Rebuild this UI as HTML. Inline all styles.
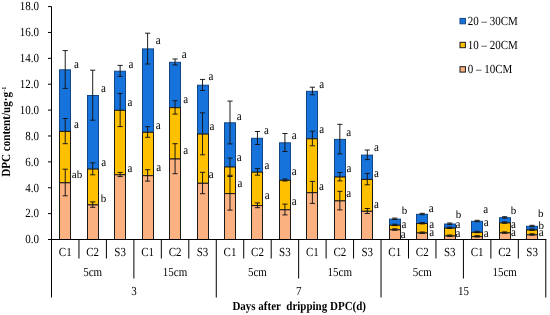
<!DOCTYPE html><html><head><meta charset="utf-8"><style>
html,body{margin:0;padding:0;background:#fff;width:550px;height:315px;overflow:hidden}
svg{display:block}
text{font-family:'Liberation Serif','Times New Roman',serif;fill:#000;text-rendering:geometricPrecision}
</style></head><body>
<svg width="550" height="315" viewBox="0 0 550 315">
<rect x="59.50" y="69.80" width="11" height="61.60" fill="#1773DC" stroke="#144684" stroke-width="1"/>
<rect x="59.50" y="131.40" width="11" height="51.40" fill="#FFC000" stroke="#1a1a1a" stroke-width="1"/>
<rect x="59.50" y="182.80" width="11" height="56.70" fill="#FCB181" stroke="#1a1a1a" stroke-width="1"/>
<rect x="87.50" y="95.50" width="11" height="73.60" fill="#1773DC" stroke="#144684" stroke-width="1"/>
<rect x="87.50" y="169.10" width="11" height="35.80" fill="#FFC000" stroke="#1a1a1a" stroke-width="1"/>
<rect x="87.50" y="204.90" width="11" height="34.60" fill="#FCB181" stroke="#1a1a1a" stroke-width="1"/>
<rect x="114.50" y="71.20" width="11" height="39.10" fill="#1773DC" stroke="#144684" stroke-width="1"/>
<rect x="114.50" y="110.30" width="11" height="64.50" fill="#FFC000" stroke="#1a1a1a" stroke-width="1"/>
<rect x="114.50" y="174.80" width="11" height="64.70" fill="#FCB181" stroke="#1a1a1a" stroke-width="1"/>
<rect x="142.50" y="48.90" width="11" height="83.40" fill="#1773DC" stroke="#144684" stroke-width="1"/>
<rect x="142.50" y="132.30" width="11" height="43.40" fill="#FFC000" stroke="#1a1a1a" stroke-width="1"/>
<rect x="142.50" y="175.70" width="11" height="63.80" fill="#FCB181" stroke="#1a1a1a" stroke-width="1"/>
<rect x="169.50" y="62.30" width="11" height="45.40" fill="#1773DC" stroke="#144684" stroke-width="1"/>
<rect x="169.50" y="107.70" width="11" height="51.30" fill="#FFC000" stroke="#1a1a1a" stroke-width="1"/>
<rect x="169.50" y="159.00" width="11" height="80.50" fill="#FCB181" stroke="#1a1a1a" stroke-width="1"/>
<rect x="197.50" y="85.20" width="11" height="48.90" fill="#1773DC" stroke="#144684" stroke-width="1"/>
<rect x="197.50" y="134.10" width="11" height="49.20" fill="#FFC000" stroke="#1a1a1a" stroke-width="1"/>
<rect x="197.50" y="183.30" width="11" height="56.20" fill="#FCB181" stroke="#1a1a1a" stroke-width="1"/>
<rect x="224.50" y="122.80" width="11" height="44.20" fill="#1773DC" stroke="#144684" stroke-width="1"/>
<rect x="224.50" y="167.00" width="11" height="26.60" fill="#FFC000" stroke="#1a1a1a" stroke-width="1"/>
<rect x="224.50" y="193.60" width="11" height="45.90" fill="#FCB181" stroke="#1a1a1a" stroke-width="1"/>
<rect x="251.50" y="138.30" width="11" height="33.90" fill="#1773DC" stroke="#144684" stroke-width="1"/>
<rect x="251.50" y="172.20" width="11" height="33.40" fill="#FFC000" stroke="#1a1a1a" stroke-width="1"/>
<rect x="251.50" y="205.60" width="11" height="33.90" fill="#FCB181" stroke="#1a1a1a" stroke-width="1"/>
<rect x="279.50" y="142.80" width="11" height="37.50" fill="#1773DC" stroke="#144684" stroke-width="1"/>
<rect x="279.50" y="180.30" width="11" height="29.50" fill="#FFC000" stroke="#1a1a1a" stroke-width="1"/>
<rect x="279.50" y="209.80" width="11" height="29.70" fill="#FCB181" stroke="#1a1a1a" stroke-width="1"/>
<rect x="306.50" y="91.30" width="11" height="47.50" fill="#1773DC" stroke="#144684" stroke-width="1"/>
<rect x="306.50" y="138.80" width="11" height="53.90" fill="#FFC000" stroke="#1a1a1a" stroke-width="1"/>
<rect x="306.50" y="192.70" width="11" height="46.80" fill="#FCB181" stroke="#1a1a1a" stroke-width="1"/>
<rect x="334.50" y="139.40" width="11" height="37.60" fill="#1773DC" stroke="#144684" stroke-width="1"/>
<rect x="334.50" y="177.00" width="11" height="23.90" fill="#FFC000" stroke="#1a1a1a" stroke-width="1"/>
<rect x="334.50" y="200.90" width="11" height="38.60" fill="#FCB181" stroke="#1a1a1a" stroke-width="1"/>
<rect x="361.50" y="155.10" width="11" height="24.30" fill="#1773DC" stroke="#144684" stroke-width="1"/>
<rect x="361.50" y="179.40" width="11" height="31.90" fill="#FFC000" stroke="#1a1a1a" stroke-width="1"/>
<rect x="361.50" y="211.30" width="11" height="28.20" fill="#FCB181" stroke="#1a1a1a" stroke-width="1"/>
<rect x="389.50" y="219.10" width="11" height="6.10" fill="#1773DC" stroke="#144684" stroke-width="1"/>
<rect x="389.50" y="225.20" width="11" height="4.60" fill="#FFC000" stroke="#1a1a1a" stroke-width="1"/>
<rect x="389.50" y="229.80" width="11" height="9.70" fill="#FCB181" stroke="#1a1a1a" stroke-width="1"/>
<rect x="416.50" y="214.30" width="11" height="9.20" fill="#1773DC" stroke="#144684" stroke-width="1"/>
<rect x="416.50" y="223.50" width="11" height="9.50" fill="#FFC000" stroke="#1a1a1a" stroke-width="1"/>
<rect x="416.50" y="233.00" width="11" height="6.50" fill="#FCB181" stroke="#1a1a1a" stroke-width="1"/>
<rect x="444.50" y="224.00" width="11" height="4.10" fill="#1773DC" stroke="#144684" stroke-width="1"/>
<rect x="444.50" y="228.10" width="11" height="7.90" fill="#FFC000" stroke="#1a1a1a" stroke-width="1"/>
<rect x="444.50" y="236.00" width="11" height="3.50" fill="#FCB181" stroke="#1a1a1a" stroke-width="1"/>
<rect x="471.50" y="221.30" width="11" height="11.00" fill="#1773DC" stroke="#144684" stroke-width="1"/>
<rect x="471.50" y="232.30" width="11" height="4.30" fill="#FFC000" stroke="#1a1a1a" stroke-width="1"/>
<rect x="471.50" y="236.60" width="11" height="2.90" fill="#FCB181" stroke="#1a1a1a" stroke-width="1"/>
<rect x="499.50" y="217.70" width="11" height="5.20" fill="#1773DC" stroke="#144684" stroke-width="1"/>
<rect x="499.50" y="222.90" width="11" height="10.00" fill="#FFC000" stroke="#1a1a1a" stroke-width="1"/>
<rect x="499.50" y="232.90" width="11" height="6.60" fill="#FCB181" stroke="#1a1a1a" stroke-width="1"/>
<rect x="526.50" y="226.30" width="11" height="3.70" fill="#1773DC" stroke="#144684" stroke-width="1"/>
<rect x="526.50" y="230.00" width="11" height="4.80" fill="#FFC000" stroke="#1a1a1a" stroke-width="1"/>
<rect x="526.50" y="234.80" width="11" height="4.70" fill="#FCB181" stroke="#1a1a1a" stroke-width="1"/>
<path d="M65.23 169.20V195.80M62.63 169.20H67.83M62.63 195.80H67.83M65.23 118.50V143.70M62.63 118.50H67.83M62.63 143.70H67.83M65.23 50.60V88.40M62.63 50.60H67.83M62.63 88.40H67.83M92.69 201.90V207.30M90.09 201.90H95.29M90.09 207.30H95.29M92.69 162.80V174.80M90.09 162.80H95.29M90.09 174.80H95.29M92.69 70.20V120.20M90.09 70.20H95.29M90.09 120.20H95.29M120.15 172.40V176.60M117.55 172.40H122.75M117.55 176.60H122.75M120.15 93.40V126.60M117.55 93.40H122.75M117.55 126.60H122.75M120.15 65.40V76.40M117.55 65.40H122.75M117.55 76.40H122.75M147.61 169.70V181.10M145.01 169.70H150.21M145.01 181.10H150.21M147.61 126.70V137.30M145.01 126.70H150.21M145.01 137.30H150.21M147.61 33.20V64.00M145.01 33.20H150.21M145.01 64.00H150.21M175.07 143.70V173.70M172.47 143.70H177.67M172.47 173.70H177.67M175.07 100.70V114.10M172.47 100.70H177.67M172.47 114.10H177.67M175.07 59.00V65.00M172.47 59.00H177.67M172.47 65.00H177.67M202.54 172.30V193.70M199.94 172.30H205.14M199.94 193.70H205.14M202.54 112.80V154.80M199.94 112.80H205.14M199.94 154.80H205.14M202.54 79.40V90.40M199.94 79.40H205.14M199.94 90.40H205.14M230.00 176.50V210.10M227.40 176.50H232.60M227.40 210.10H232.60M230.00 158.10V175.30M227.40 158.10H232.60M227.40 175.30H232.60M230.00 101.10V143.90M227.40 101.10H232.60M227.40 143.90H232.60M257.46 202.90V207.70M254.86 202.90H260.06M254.86 207.70H260.06M257.46 168.60V175.20M254.86 168.60H260.06M254.86 175.20H260.06M257.46 131.50V144.50M254.86 131.50H260.06M254.86 144.50H260.06M284.92 204.10V214.90M282.32 204.10H287.52M282.32 214.90H287.52M284.92 179.00V181.00M282.32 179.00H287.52M282.32 181.00H287.52M284.92 133.50V151.50M282.32 133.50H287.52M282.32 151.50H287.52M312.38 181.40V203.40M309.78 181.40H314.98M309.78 203.40H314.98M312.38 131.20V145.80M309.78 131.20H314.98M309.78 145.80H314.98M312.38 87.20V94.80M309.78 87.20H314.98M309.78 94.80H314.98M339.84 191.30V209.90M337.24 191.30H342.44M337.24 209.90H342.44M339.84 172.50V180.90M337.24 172.50H342.44M337.24 180.90H342.44M339.84 124.30V153.90M337.24 124.30H342.44M337.24 153.90H342.44M367.30 208.50V213.50M364.70 208.50H369.90M364.70 213.50H369.90M367.30 173.40V184.80M364.70 173.40H369.90M364.70 184.80H369.90M367.30 150.00V159.60M364.70 150.00H369.90M364.70 159.60H369.90M394.76 228.80V230.20M392.16 228.80H397.36M392.16 230.20H397.36M394.76 224.20V225.60M392.16 224.20H397.36M392.16 225.60H397.36M394.76 218.10V219.50M392.16 218.10H397.36M392.16 219.50H397.36M422.22 232.00V233.40M419.62 232.00H424.82M419.62 233.40H424.82M422.22 222.50V223.90M419.62 222.50H424.82M419.62 223.90H424.82M422.22 213.30V214.70M419.62 213.30H424.82M419.62 214.70H424.82M449.69 235.00V236.40M447.09 235.00H452.29M447.09 236.40H452.29M449.69 227.10V228.50M447.09 227.10H452.29M447.09 228.50H452.29M449.69 223.00V224.40M447.09 223.00H452.29M447.09 224.40H452.29M477.15 235.60V237.00M474.55 235.60H479.75M474.55 237.00H479.75M477.15 231.30V232.70M474.55 231.30H479.75M474.55 232.70H479.75M477.15 220.30V221.70M474.55 220.30H479.75M474.55 221.70H479.75M504.61 231.90V233.30M502.01 231.90H507.21M502.01 233.30H507.21M504.61 221.90V223.30M502.01 221.90H507.21M502.01 223.30H507.21M504.61 216.70V218.10M502.01 216.70H507.21M502.01 218.10H507.21M532.07 233.80V235.20M529.47 233.80H534.67M529.47 235.20H534.67M532.07 229.00V230.40M529.47 229.00H534.67M529.47 230.40H534.67M532.07 225.30V226.70M529.47 225.30H534.67M529.47 226.70H534.67" stroke="#141414" stroke-width="0.95" fill="none"/>
<text transform="translate(77.05 178.10) scale(1 1.000)" font-size="11" text-anchor="middle">ab</text>
<text transform="translate(76.55 127.80) scale(1 1.120)" font-size="11" text-anchor="middle">a</text>
<text transform="translate(76.55 67.60) scale(1 1.120)" font-size="11" text-anchor="middle">a</text>
<text transform="translate(103.40 202.10) scale(1 1.000)" font-size="11" text-anchor="middle">b</text>
<text transform="translate(103.80 165.80) scale(1 1.120)" font-size="11" text-anchor="middle">a</text>
<text transform="translate(103.45 92.00) scale(1 1.120)" font-size="11" text-anchor="middle">a</text>
<text transform="translate(130.00 171.90) scale(1 1.120)" font-size="11" text-anchor="middle">a</text>
<text transform="translate(129.95 105.60) scale(1 1.120)" font-size="11" text-anchor="middle">a</text>
<text transform="translate(130.85 67.60) scale(1 1.120)" font-size="11" text-anchor="middle">a</text>
<text transform="translate(158.80 170.50) scale(1 1.120)" font-size="11" text-anchor="middle">a</text>
<text transform="translate(158.30 128.60) scale(1 1.120)" font-size="11" text-anchor="middle">a</text>
<text transform="translate(158.10 43.60) scale(1 1.120)" font-size="11" text-anchor="middle">a</text>
<text transform="translate(185.80 153.60) scale(1 1.120)" font-size="11" text-anchor="middle">a</text>
<text transform="translate(185.80 103.30) scale(1 1.120)" font-size="11" text-anchor="middle">a</text>
<text transform="translate(184.30 57.60) scale(1 1.120)" font-size="11" text-anchor="middle">a</text>
<text transform="translate(211.10 178.00) scale(1 1.120)" font-size="11" text-anchor="middle">a</text>
<text transform="translate(212.00 129.50) scale(1 1.120)" font-size="11" text-anchor="middle">a</text>
<text transform="translate(211.00 80.30) scale(1 1.120)" font-size="11" text-anchor="middle">a</text>
<text transform="translate(240.00 187.00) scale(1 1.120)" font-size="11" text-anchor="middle">a</text>
<text transform="translate(239.30 160.50) scale(1 1.120)" font-size="11" text-anchor="middle">a</text>
<text transform="translate(239.30 119.70) scale(1 1.120)" font-size="11" text-anchor="middle">a</text>
<text transform="translate(267.30 198.90) scale(1 1.120)" font-size="11" text-anchor="middle">a</text>
<text transform="translate(267.00 169.20) scale(1 1.120)" font-size="11" text-anchor="middle">a</text>
<text transform="translate(266.40 133.50) scale(1 1.120)" font-size="11" text-anchor="middle">a</text>
<text transform="translate(294.30 205.10) scale(1 1.120)" font-size="11" text-anchor="middle">a</text>
<text transform="translate(294.30 175.30) scale(1 1.120)" font-size="11" text-anchor="middle">a</text>
<text transform="translate(294.30 139.30) scale(1 1.120)" font-size="11" text-anchor="middle">a</text>
<text transform="translate(321.50 190.20) scale(1 1.120)" font-size="11" text-anchor="middle">a</text>
<text transform="translate(321.60 133.10) scale(1 1.120)" font-size="11" text-anchor="middle">a</text>
<text transform="translate(321.80 88.10) scale(1 1.120)" font-size="11" text-anchor="middle">a</text>
<text transform="translate(348.70 196.90) scale(1 1.120)" font-size="11" text-anchor="middle">a</text>
<text transform="translate(349.00 172.00) scale(1 1.120)" font-size="11" text-anchor="middle">a</text>
<text transform="translate(348.70 135.70) scale(1 1.120)" font-size="11" text-anchor="middle">a</text>
<text transform="translate(376.40 207.90) scale(1 1.120)" font-size="11" text-anchor="middle">a</text>
<text transform="translate(376.40 176.90) scale(1 1.120)" font-size="11" text-anchor="middle">a</text>
<text transform="translate(376.40 151.40) scale(1 1.120)" font-size="11" text-anchor="middle">a</text>
<text transform="translate(403.30 238.30) scale(1 1.120)" font-size="11" text-anchor="middle">a</text>
<text transform="translate(403.90 227.80) scale(1 1.120)" font-size="11" text-anchor="middle">a</text>
<text transform="translate(404.40 214.40) scale(1 1.000)" font-size="11" text-anchor="middle">b</text>
<text transform="translate(431.60 235.60) scale(1 1.120)" font-size="11" text-anchor="middle">a</text>
<text transform="translate(431.60 227.80) scale(1 1.120)" font-size="11" text-anchor="middle">a</text>
<text transform="translate(431.10 211.70) scale(1 1.120)" font-size="11" text-anchor="middle">a</text>
<text transform="translate(457.90 236.70) scale(1 1.120)" font-size="11" text-anchor="middle">a</text>
<text transform="translate(457.90 228.30) scale(1 1.120)" font-size="11" text-anchor="middle">a</text>
<text transform="translate(458.60 217.80) scale(1 1.000)" font-size="11" text-anchor="middle">b</text>
<text transform="translate(486.10 236.70) scale(1 1.120)" font-size="11" text-anchor="middle">a</text>
<text transform="translate(486.10 226.10) scale(1 1.120)" font-size="11" text-anchor="middle">a</text>
<text transform="translate(485.70 212.80) scale(1 1.120)" font-size="11" text-anchor="middle">a</text>
<text transform="translate(513.50 236.10) scale(1 1.120)" font-size="11" text-anchor="middle">a</text>
<text transform="translate(513.50 227.80) scale(1 1.120)" font-size="11" text-anchor="middle">a</text>
<text transform="translate(513.60 214.40) scale(1 1.000)" font-size="11" text-anchor="middle">b</text>
<text transform="translate(541.10 236.30) scale(1 1.120)" font-size="11" text-anchor="middle">a</text>
<text transform="translate(541.30 228.90) scale(1 1.000)" font-size="11" text-anchor="middle">b</text>
<text transform="translate(540.80 216.70) scale(1 1.000)" font-size="11" text-anchor="middle">b</text>
<path d="M51.5 6.5V297.5M51.0 239.5H546.3" stroke="#000" stroke-width="1" fill="none"/>
<path d="M48 239.50H51.5M48 213.62H51.5M48 187.74H51.5M48 161.86H51.5M48 135.98H51.5M48 110.10H51.5M48 84.22H51.5M48 58.34H51.5M48 32.46H51.5M48 6.58H51.5" stroke="#000" stroke-width="1" fill="none"/>
<text transform="translate(39.00 243.30) scale(1 1.120)" font-size="11" text-anchor="end">0.0</text>
<text transform="translate(39.00 217.42) scale(1 1.120)" font-size="11" text-anchor="end">2.0</text>
<text transform="translate(39.00 191.54) scale(1 1.120)" font-size="11" text-anchor="end">4.0</text>
<text transform="translate(39.00 165.66) scale(1 1.120)" font-size="11" text-anchor="end">6.0</text>
<text transform="translate(39.00 139.78) scale(1 1.120)" font-size="11" text-anchor="end">8.0</text>
<text transform="translate(39.00 113.90) scale(1 1.120)" font-size="11" text-anchor="end">10.0</text>
<text transform="translate(39.00 88.02) scale(1 1.120)" font-size="11" text-anchor="end">12.0</text>
<text transform="translate(39.00 62.14) scale(1 1.120)" font-size="11" text-anchor="end">14.0</text>
<text transform="translate(39.00 36.26) scale(1 1.120)" font-size="11" text-anchor="end">16.0</text>
<text transform="translate(39.00 10.38) scale(1 1.120)" font-size="11" text-anchor="end">18.0</text>
<path d="M78.96 239.5V258.5M106.42 239.5V258.5M133.88 239.5V278.5M161.34 239.5V258.5M188.81 239.5V258.5M216.27 239.5V297.5M243.73 239.5V258.5M271.19 239.5V258.5M298.65 239.5V278.5M326.11 239.5V258.5M353.57 239.5V258.5M381.03 239.5V297.5M408.49 239.5V258.5M435.96 239.5V258.5M463.42 239.5V278.5M490.88 239.5V258.5M518.34 239.5V258.5M545.80 239.5V297.5" stroke="#000" stroke-width="1" fill="none"/>
<text transform="translate(65.23 256.20) scale(1 1.120)" font-size="11" text-anchor="middle">C1</text>
<text transform="translate(92.69 256.20) scale(1 1.120)" font-size="11" text-anchor="middle">C2</text>
<text transform="translate(120.15 256.20) scale(1 1.120)" font-size="11" text-anchor="middle">S3</text>
<text transform="translate(147.61 256.20) scale(1 1.120)" font-size="11" text-anchor="middle">C1</text>
<text transform="translate(175.07 256.20) scale(1 1.120)" font-size="11" text-anchor="middle">C2</text>
<text transform="translate(202.54 256.20) scale(1 1.120)" font-size="11" text-anchor="middle">S3</text>
<text transform="translate(230.00 256.20) scale(1 1.120)" font-size="11" text-anchor="middle">C1</text>
<text transform="translate(257.46 256.20) scale(1 1.120)" font-size="11" text-anchor="middle">C2</text>
<text transform="translate(284.92 256.20) scale(1 1.120)" font-size="11" text-anchor="middle">S3</text>
<text transform="translate(312.38 256.20) scale(1 1.120)" font-size="11" text-anchor="middle">C1</text>
<text transform="translate(339.84 256.20) scale(1 1.120)" font-size="11" text-anchor="middle">C2</text>
<text transform="translate(367.30 256.20) scale(1 1.120)" font-size="11" text-anchor="middle">S3</text>
<text transform="translate(394.76 256.20) scale(1 1.120)" font-size="11" text-anchor="middle">C1</text>
<text transform="translate(422.22 256.20) scale(1 1.120)" font-size="11" text-anchor="middle">C2</text>
<text transform="translate(449.69 256.20) scale(1 1.120)" font-size="11" text-anchor="middle">S3</text>
<text transform="translate(477.15 256.20) scale(1 1.120)" font-size="11" text-anchor="middle">C1</text>
<text transform="translate(504.61 256.20) scale(1 1.120)" font-size="11" text-anchor="middle">C2</text>
<text transform="translate(532.07 256.20) scale(1 1.120)" font-size="11" text-anchor="middle">S3</text>
<text transform="translate(92.69 276.00) scale(1 1.120)" font-size="11" text-anchor="middle">5cm</text>
<text transform="translate(175.07 276.00) scale(1 1.120)" font-size="11" text-anchor="middle">15cm</text>
<text transform="translate(257.46 276.00) scale(1 1.120)" font-size="11" text-anchor="middle">5cm</text>
<text transform="translate(339.84 276.00) scale(1 1.120)" font-size="11" text-anchor="middle">15cm</text>
<text transform="translate(422.22 276.00) scale(1 1.120)" font-size="11" text-anchor="middle">5cm</text>
<text transform="translate(504.61 276.00) scale(1 1.120)" font-size="11" text-anchor="middle">15cm</text>
<text transform="translate(133.88 295.00) scale(1 1.120)" font-size="11" text-anchor="middle">3</text>
<text transform="translate(298.65 295.00) scale(1 1.120)" font-size="11" text-anchor="middle">7</text>
<text transform="translate(463.42 295.00) scale(1 1.120)" font-size="11" text-anchor="middle">15</text>
<text transform="translate(232.40 310.00) scale(1 1.120)" font-size="11" font-weight="bold" xml:space="preserve">Days after  dripping DPC(d)</text>
<text transform="translate(10.2 131.8) rotate(-90) scale(1 1.120)" font-size="11.1" font-weight="bold" text-anchor="middle">DPC content/ug·g<tspan font-size="5.6" dx="0.6" dy="-3.5">-1</tspan></text>
<rect x="460" y="18.40" width="5.4" height="5.4" fill="#1773DC" stroke="#144684" stroke-width="1"/>
<text transform="translate(467.70 24.90) scale(1 1.120)" font-size="11">20 – 30CM</text>
<rect x="460" y="42.30" width="5.4" height="5.4" fill="#FFC000" stroke="#1a1a1a" stroke-width="1"/>
<text transform="translate(467.70 48.80) scale(1 1.120)" font-size="11">10 – 20CM</text>
<rect x="460" y="66.70" width="5.4" height="5.4" fill="#FCB181" stroke="#1a1a1a" stroke-width="1"/>
<text transform="translate(467.70 73.20) scale(1 1.120)" font-size="11">0 – 10CM</text>
</svg></body></html>
